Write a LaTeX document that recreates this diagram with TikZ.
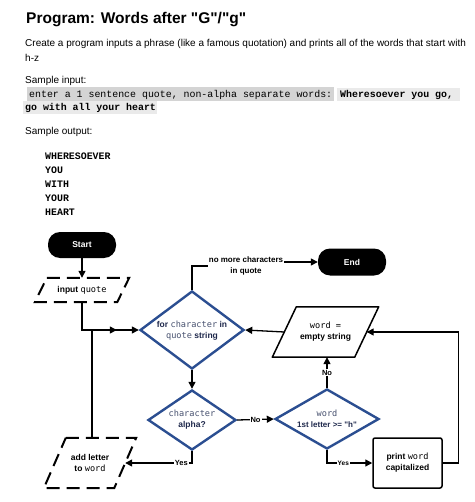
\documentclass[tikz,border=0pt]{standalone}
\usepackage{fontspec}
\setmainfont{Liberation Sans}[Ligatures=TeXOff]
\newfontfamily\cour{Liberation Mono}
\newfontfamily\dmono{DejaVu Sans Mono}
\usetikzlibrary{shapes.geometric,arrows.meta}
\definecolor{dblue}{RGB}{43,78,145}
\definecolor{navytxt}{RGB}{30,40,75}
\definecolor{slate}{RGB}{70,80,110}
\definecolor{codedark}{RGB}{212,212,212}
\definecolor{codelight}{RGB}{234,234,234}
\newcommand{\mw}[1]{{\dmono\mdseries\fontsize{8.6}{10}\selectfont #1}}
\begin{document}
\begin{tikzpicture}[x=1pt,y=-1pt,
  txt/.style={anchor=base west, inner sep=0pt, font=\fontsize{10}{12}\selectfont},
  codetxt/.style={anchor=base west, inner sep=0pt, font=\cour\fontsize{9.9}{12}\selectfont},
  term/.style={fill=black, rounded corners=12pt, minimum width=68pt, minimum height=26pt, text=white, font=\bfseries\fontsize{8.5}{9}\selectfont},
  dia/.style={diamond, draw=dblue, line width=2.4pt, inner sep=0pt},
  lbl/.style={font=\bfseries\fontsize{8.5}{11}\selectfont, align=center, text=navytxt},
  blk/.style={font=\bfseries\fontsize{8.5}{11}\selectfont, align=center, text=black},
  body/.style={inner sep=0pt},
  outline/.style={line width=1.5pt, line join=round},
  dashedline/.style={line width=2pt, dash pattern=on 13pt off 7pt},
  conn/.style={line width=1.3pt, -{Triangle[length=7pt,width=7pt]}},
  plain/.style={line width=1.3pt},
  yn/.style={fill=white, inner sep=1pt, font=\bfseries\fontsize{7.5}{9}\selectfont}]
\useasboundingbox (0,0) rectangle (474,502);
% header text
\node[txt, font=\bfseries\fontsize{15.5}{18}\selectfont] (title) at (26,24) {Program: Words after "G"/"g"};
\node[txt] (desc1) at (25,47) {Create a program inputs a phrase (like a famous quotation) and prints all of the words that start with};
\node[txt] (desc2) at (25,62) {h-z};
\node[txt] (sin) at (25,84) {Sample input:};
\fill[codedark] (27,87) rectangle (334,101);
\fill[codelight] (337,88) rectangle (460,101);
\fill[codelight] (23,101) rectangle (157,114);
\node[codetxt] (code1) at (29,98) {enter a 1 sentence quote, non-alpha separate words:};
\node[codetxt, font=\cour\bfseries\fontsize{9.9}{12}\selectfont] (code2) at (340,98) {Wheresoever you go,};
\node[codetxt, font=\cour\bfseries\fontsize{9.9}{12}\selectfont] (code3) at (25,111) {go with all your heart};
\node[txt] (sout) at (25,135) {Sample output:};
\node[codetxt, font=\cour\bfseries\fontsize{9.9}{12}\selectfont] (o1) at (45,160) {WHERESOEVER};
\node[codetxt, font=\cour\bfseries\fontsize{9.9}{12}\selectfont] (o2) at (45,174) {YOU};
\node[codetxt, font=\cour\bfseries\fontsize{9.9}{12}\selectfont] (o3) at (45,188) {WITH};
\node[codetxt, font=\cour\bfseries\fontsize{9.9}{12}\selectfont] (o4) at (45,202) {YOUR};
\node[codetxt, font=\cour\bfseries\fontsize{9.9}{12}\selectfont] (o5) at (45,216) {HEART};
% terminals
\node[term] (start) at (82,245) {Start};
\node[term, minimum height=27pt] (end) at (352,262) {End};
% input quote
\node[body, minimum width=82pt, minimum height=24pt, blk] (inq) at (82,290) {input \mw{quote}};
\draw[dashedline] ([xshift=6pt]inq.north west) -- ([xshift=6pt]inq.north east) -- ([xshift=-6pt]inq.south east) -- ([xshift=-6pt]inq.south west) -- cycle;
% diamonds
\node[dia, minimum width=104pt, minimum height=78pt] (d1) at (192,330) {};
\node[lbl] (d1t) at (192,331) {for \mw{\textcolor{slate}{character}} in\\\mw{\textcolor{slate}{quote}} string};
\node[dia, minimum width=88pt, minimum height=60pt] (d2) at (192,420) {};
\node[lbl] (d2t) at (192,420) {\mw{\textcolor{slate}{character}}\\alpha?};
\node[dia, minimum width=104pt, minimum height=60pt] (d3) at (327,419) {};
\node[lbl, font=\bfseries\fontsize{8}{11}\selectfont] (d3t) at (327,419) {\mw{\textcolor{slate}{word}}\\1st letter >= "h"};
% word = empty string
\node[body, minimum width=82pt, minimum height=50pt, blk] (wempty) at (325.5,332) {\mw{word =}\\empty string};
\draw[outline] ([xshift=12pt]wempty.north west) -- ([xshift=12pt]wempty.north east) -- ([xshift=-12pt]wempty.south east) -- ([xshift=-12pt]wempty.south west) -- cycle;
% print word capitalized
\node[draw, outline, rounded corners=2pt, minimum width=69pt, minimum height=50pt, blk] (print) at (407.5,463) {print \mw{word}\\capitalized};
% add letter to word
\node[body, minimum width=70pt, minimum height=50pt, blk] (addl) at (90,463) {add letter\\to \mw{word}};
\draw[dashedline] ([xshift=11pt]addl.north west) -- ([xshift=11pt]addl.north east) -- ([xshift=-11pt]addl.south east) -- ([xshift=-11pt]addl.south west) -- cycle;
% no more characters label
\node[blk, inner sep=1pt, font=\bfseries\fontsize{8}{11}\selectfont] (nomore) at (246,266) {no more characters\\in quote};
% connectors
\draw[conn] (start.south) -- (start.south |- inq.north);
\draw[conn] (inq.south) |- ([xshift=-22pt]d1.west);
\draw[conn] ([xshift=2pt]addl.north) |- (d1.west);
\draw[plain] (d1.north) |- (nomore.west);
\draw[conn] (nomore.east |- end.west) -- (end.west);
\draw[conn] (d1.south) -- (d2.north);
\draw[conn] (d2.east) -- node[yn]{No} (d3.west);
\draw[conn] (d2.south) |- node[yn, pos=0.58]{Yes} (addl.east);
\draw[conn] (d3.north) -- node[yn]{No} (d3.north |- wempty.south);
\draw[conn] (d3.south) |- node[yn, pos=0.68, font=\bfseries\fontsize{6.5}{8}\selectfont]{Yes} (print.west);
\draw[conn] (print.east) -- ++(16pt,0) |- (wempty.east);
\draw[conn] (wempty.west) -- (d1.east);
\end{tikzpicture}
\end{document}
